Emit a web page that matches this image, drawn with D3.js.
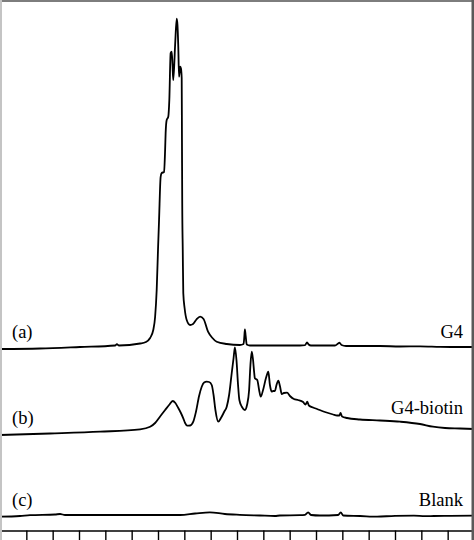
<!DOCTYPE html>
<html>
<head>
<meta charset="utf-8">
<script src="https://cdn.jsdelivr.net/npm/d3@7"></script>
<style>
  body { margin: 0; background: #fff; }
  svg { display: block; }
  .lbl { font-family: "Liberation Serif", "DejaVu Serif", serif; font-size: 18.5px; fill: #000; }
</style>
</head>
<body>
<div id="chart"></div>
<script>
// retention time (min) vs detector signal (a.u., traces stacked)
var g4 = [
  [0, 36.2], [1.52, 36.3], [3.04, 36.6], [4.37, 36.9], [4.44, 37.16], [4.52, 36.9],
  [5.32, 37.3], [5.54, 37.6], [5.70, 38.4], [5.82, 40.0], [5.89, 42.6], [5.95, 48.0],
  [6.00, 56.0], [6.04, 62.0], [6.10, 70.6], [6.14, 71.4], [6.23, 71.6], [6.27, 76.0],
  [6.29, 79.4], [6.33, 82.0], [6.39, 82.66], [6.43, 86.0], [6.48, 95.4], [6.52, 95.66],
  [6.55, 93.0], [6.58, 90.0], [6.65, 97.0], [6.71, 102.26], [6.74, 101.0], [6.77, 96.66],
  [6.80, 90.66], [6.84, 92.66], [6.87, 92.34], [6.90, 90.4], [6.91, 78.0], [6.92, 65.4],
  [6.94, 56.0], [6.96, 47.4], [7.01, 44.4], [7.09, 42.0], [7.22, 41.0], [7.33, 41.2],
  [7.46, 42.1], [7.60, 42.66], [7.73, 42.2], [7.90, 39.66], [8.05, 38.5], [8.23, 37.66],
  [8.61, 37.2], [9.11, 37.0], [9.25, 37.2], [9.28, 38.8], [9.30, 40.14], [9.33, 38.8],
  [9.37, 37.1], [9.49, 36.9], [10.25, 36.9], [11.39, 36.9], [11.58, 36.96], [11.66, 37.5],
  [11.72, 37.1], [11.81, 36.9], [12.72, 36.9], [12.84, 37.3], [12.89, 37.46], [12.97, 37.0],
  [13.14, 36.8], [14.43, 36.8], [15.19, 36.7], [15.95, 36.74], [16.71, 36.64], [17.47, 36.6],
  [18.0, 36.6]
];

var g4biotin = [
  [0, 19.0], [1.90, 19.3], [3.80, 19.66], [5.32, 20.14], [5.70, 20.66], [5.89, 21.4],
  [6.08, 22.7], [6.27, 24.0], [6.42, 25.0], [6.56, 25.8], [6.66, 25.4], [6.77, 24.4],
  [6.87, 23.4], [6.96, 22.34], [7.03, 21.4], [7.11, 20.86], [7.22, 20.9], [7.34, 21.66],
  [7.44, 23.6], [7.56, 26.8], [7.66, 28.66], [7.75, 29.5], [7.85, 29.66], [7.94, 29.6],
  [8.04, 29.0], [8.11, 27.0], [8.18, 24.0], [8.29, 21.66], [8.39, 22.4], [8.51, 23.6],
  [8.61, 24.66], [8.70, 27.0], [8.80, 31.4], [8.87, 34.4], [8.92, 36.5], [8.98, 34.0],
  [9.04, 29.0], [9.09, 26.0], [9.19, 24.6], [9.30, 24.0], [9.38, 25.0], [9.46, 28.0],
  [9.51, 33.0], [9.56, 35.66], [9.61, 34.0], [9.65, 31.6], [9.68, 30.34], [9.77, 30.0],
  [9.84, 28.0], [9.90, 26.66], [9.99, 28.0], [10.10, 30.4], [10.19, 31.66], [10.25, 29.0],
  [10.32, 27.66], [10.37, 27.8], [10.44, 27.8], [10.50, 29.0], [10.57, 29.86], [10.63, 28.8],
  [10.70, 27.2], [10.78, 27.4], [10.90, 27.46], [11.01, 26.8], [11.16, 26.2], [11.32, 26.0],
  [11.51, 25.6], [11.60, 25.1], [11.67, 25.66], [11.73, 24.9], [11.89, 24.5], [12.04, 24.2],
  [12.34, 23.6], [12.65, 23.1], [12.80, 22.9], [12.89, 22.9], [12.93, 23.4], [12.99, 22.7],
  [13.18, 22.4], [13.67, 22.1], [14.43, 21.9], [15.19, 21.66], [15.95, 21.2], [16.44, 20.66],
  [16.90, 20.4], [17.47, 20.3], [18.0, 20.2]
];

var blank = [
  [0, 2.66], [0.76, 2.8], [1.14, 2.96], [2.09, 3.1], [2.28, 3.2], [2.47, 3.0],
  [4.56, 3.0], [6.84, 3.0], [7.41, 3.3], [7.97, 3.54], [8.54, 3.2], [9.11, 3.04],
  [9.87, 2.9], [10.44, 2.8], [10.63, 2.9], [11.39, 2.96], [11.58, 3.04], [11.70, 3.54],
  [11.81, 3.0], [12.15, 2.9], [12.84, 3.0], [12.94, 3.54], [13.03, 2.9], [13.67, 2.8],
  [14.32, 2.66], [15.00, 2.84], [15.72, 2.86], [16.14, 2.76], [16.48, 2.8], [17.09, 2.84],
  [18.0, 2.86]
];

var traces = [g4, g4biotin, blank];
var tags = ["(a)", "(b)", "(c)"];
var names = ["G4", "G4-biotin", "Blank"];
var xTicks = d3.range(0, 19);

var width = 474, height = 540;
var axisY = 530;

var x = d3.scaleLinear().domain([0, 18]).range([0, width]);
var y = d3.scaleLinear().domain([0, 106]).range([axisY, 0]);

var svg = d3.select('#chart').append('svg')
    .attr('width', width)
    .attr('height', height);

var line = d3.line()
    .x(function(d) { return x(d[0]); })
    .y(function(d) { return y(d[1]); })
    .curve(d3.curveMonotoneX);

svg.selectAll('path.trace')
    .data(traces)
    .enter()
    .append('path')
    .attr('class', 'trace')
    .attr('d', line)
    .attr('fill', 'none')
    .attr('stroke', '#000')
    .attr('stroke-width', 1.8)
    .attr('stroke-linejoin', 'round');

// left tags sit just above the start of each trace, names above the end
var tagLift = [11, 11, 11];
var nameLift = [9, 15, 10];

svg.selectAll('text.tag')
    .data(traces)
    .enter()
    .append('text')
    .attr('class', 'lbl tag')
    .attr('x', 12)
    .attr('y', function(d, i) { return y(d[0][1]) - tagLift[i]; })
    .text(function(d, i) { return tags[i]; });

svg.selectAll('text.name')
    .data(traces)
    .enter()
    .append('text')
    .attr('class', 'lbl name')
    .attr('x', 463)
    .attr('text-anchor', 'end')
    .attr('y', function(d, i) { return y(d[d.length - 1][1]) - nameLift[i]; })
    .text(function(d, i) { return names[i]; });

var xAxis = d3.axisBottom(x)
    .tickValues(xTicks)
    .tickSizeInner(10)
    .tickSizeOuter(0)
    .tickFormat('');

var ax = svg.append('g')
    .attr('transform', 'translate(0,' + (axisY + 0.5) + ')')
    .call(xAxis);
ax.selectAll('path, line').attr('stroke', '#000').attr('stroke-width', 1.4);

// frame of the cropped figure
svg.append('rect').attr('x', 0).attr('y', 0).attr('width', width).attr('height', 2).attr('fill', '#7d7d7d');
svg.append('rect').attr('x', 0).attr('y', 0).attr('width', 2).attr('height', height).attr('fill', '#c4c4c4');
svg.append('rect').attr('x', width - 2.5).attr('y', 0).attr('width', 2.5).attr('height', height).attr('fill', '#5a5a5a');
</script>
</body>
</html>
